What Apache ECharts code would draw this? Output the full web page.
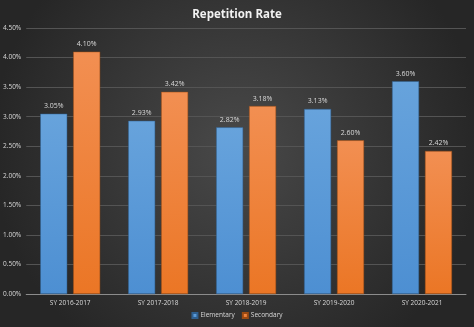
<!DOCTYPE html>
<html><head><meta charset="utf-8">
<script src="https://cdn.jsdelivr.net/npm/echarts@6/dist/echarts.min.js"></script>
<style>html,body{margin:0;padding:0;background:#333;}#c{width:474px;height:327px;}</style>
</head><body><div id="c"></div>
<script>
const categories = ['SY 2016-2017','SY 2017-2018','SY 2018-2019','SY 2019-2020','SY 2020-2021'];
const elementary = [3.05, 2.93, 2.82, 3.13, 3.60];
const secondary = [4.10, 3.42, 3.18, 2.60, 2.42];
const yTicks = [0, 0.5, 1, 1.5, 2, 2.5, 3, 3.5, 4, 4.5];

const chart = echarts.init(document.getElementById('c'), null, {renderer:'canvas'});
const lbl = {show:true, position:'top', color:'#d9d9d9', fontSize:7, fontFamily:'Open Sans', distance:4,
  formatter: p => p.value.toFixed(2) + '%'};
function grad(top, bottom){ return new echarts.graphic.LinearGradient(0,0,0,1,[{offset:0,color:top},{offset:1,color:bottom}]); }
chart.setOption({
  backgroundColor: {type:'radial', x:0.5, y:0.45, r:0.75, colorStops:[{offset:0,color:'#494949'},{offset:1,color:'#262626'}]},
  title:{text:'Repetition Rate', left:'center', top:4, textStyle:{color:'#f2f2f2', fontSize:11.5, fontWeight:'bold', fontFamily:'Open Sans'}},
  legend:{bottom:3, left:'center', itemWidth:5, itemHeight:5, itemGap:7, icon:'rect',
    textStyle:{color:'#d9d9d9', fontSize:6.5, fontFamily:'Open Sans', padding:[0,0,0,-2]}, data:['Elementary','Secondary']},
  grid:{left:25, right:8, top:28, bottom:33},
  xAxis:{type:'category', data:categories, axisTick:{show:false},
    axisLine:{lineStyle:{color:'#8c8c8c', width:1}},
    axisLabel:{color:'#d9d9d9', fontSize:6.5, fontFamily:'Open Sans', margin:6}},
  yAxis:{type:'value', min:yTicks[0], max:yTicks[yTicks.length-1], interval:0.5,
    axisLine:{show:false}, axisTick:{show:false},
    splitLine:{lineStyle:{color:'#545454', width:1}},
    axisLabel:{color:'#d9d9d9', fontSize:6.5, fontFamily:'Open Sans', margin:5, formatter: v => v.toFixed(2) + '%'}},
  series:[
    {name:'Elementary', type:'bar', data:elementary, barWidth:27, barGap:'22%',
      itemStyle:{color:grad('#67a3dc','#4d8fd2'), borderColor:'#2f5f8f', borderWidth:0.5}, label:lbl},
    {name:'Secondary', type:'bar', data:secondary, barWidth:27,
      itemStyle:{color:grad('#f28f52','#eb7625'), borderColor:'#9a4a12', borderWidth:0.5}, label:lbl}
  ]
});
</script></body></html>
